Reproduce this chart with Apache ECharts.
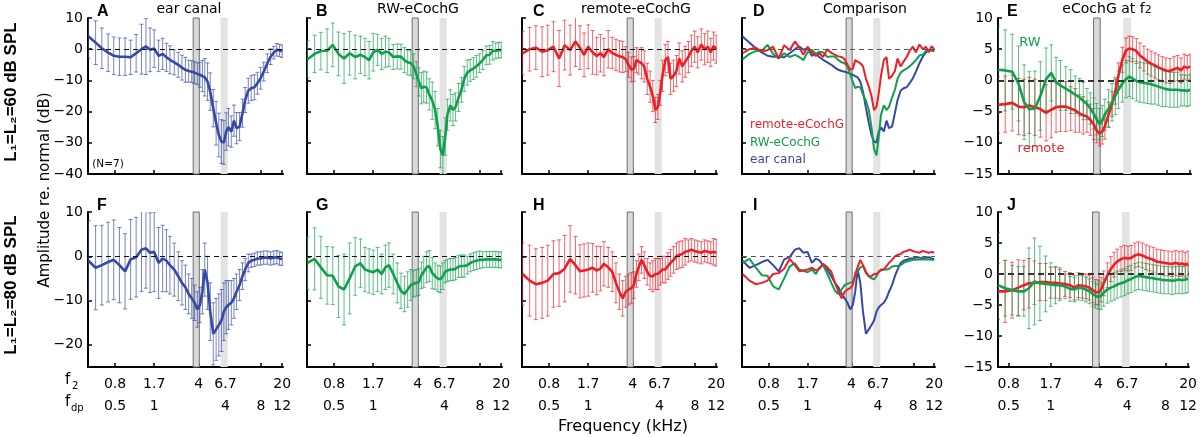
<!DOCTYPE html>
<html><head><meta charset="utf-8">
<script src="https://cdn.jsdelivr.net/npm/echarts@6/dist/echarts.min.js"></script>
<style>html,body{margin:0;padding:0;background:#fff}#c{width:1200px;height:437px}</style>
</head><body><div id="c"></div>
<script>
// ---------- data (f2 frequency in kHz, amplitude in dB re. normal) ----------
const freqMain = [0.48, 0.55, 0.62, 0.7, 0.78, 0.87, 0.97, 1.08, 1.2, 1.33, 1.45, 1.57, 1.7, 1.85, 2.0, 2.15, 2.3, 2.5, 2.7, 2.9, 3.1, 3.3, 3.5, 3.7, 3.9, 4.1, 4.3, 4.5, 4.75, 5.0, 5.3, 5.6, 5.9, 6.2, 6.5, 6.8, 7.1, 7.5, 7.9, 8.3, 8.8, 9.3, 9.8, 10.4, 11.0, 11.7, 12.4, 13.2, 14.0, 15.0, 16.0, 17.0, 18.0, 19.0, 20.0];

// L1=L2=60 dB SPL
const earCanal60 = [4.1, 2.1, 0.3, -1.1, -2.1, -2.4, -2.4, -2.6, -1.3, 0, 0.9, -0.2, 0.2, -2.1, -1.5, -2.6, -3.4, -4.2, -5.0, -5.9, -6.6, -7.0, -7.2, -7.5, -7.9, -8.2, -8.6, -9.0, -10.4, -13.6, -18.9, -23.7, -27.5, -29.6, -29.9, -26.4, -25, -26.4, -22.9, -25.3, -24.8, -20.5, -16.3, -13.3, -12.5, -12.2, -10.9, -9.3, -7.2, -4.5, -2.4, -1.1, -0.2, -0.4, -0.7];
const earCanal60Err = [7, 7, 6.5, 6, 6, 6, 6, 5.5, 6, 8, 9, 7, 6, 5, 5, 4.5, 4.5, 4, 4, 4, 4, 3.5, 3.5, 3.5, 3.5, 4, 5, 6, 6, 6, 6, 7, 7, 7, 7, 6, 6, 5, 5, 5, 4.5, 4.5, 4, 4, 4, 4, 3.5, 3.5, 3, 3, 2.5, 2, 2, 2, 2];
const rw60 = [-3.2, -1.5, -0.6, -0.5, 1.4, -1.5, -3.0, -1.3, -2.5, -1.8, -2.5, -3.5, -1.0, -0.2, -1.5, -0.8, -1.0, -2.5, -2.3, -2.4, -3.5, -4.2, -4.5, -5.5, -8.0, -10.5, -12.5, -12.0, -12.3, -14.5, -16.5, -19.5, -25.0, -32.0, -34.0, -28, -21.0, -18.0, -19.5, -18.5, -15.5, -13.0, -9.5, -7.5, -6.8, -6.2, -5.5, -4.5, -3.5, -2.0, -1.8, -0.5, -0.5, -0.3, -0.3];
const rw60Err = [6, 6, 6, 7, 7, 7, 8, 7, 7, 6, 6, 6, 6, 5, 5, 5, 4.5, 4, 4, 4, 4, 4, 4, 4, 4, 4.5, 5, 5, 5, 5, 6, 6, 6, 6, 6, 6, 5, 5, 5, 4.5, 4.5, 4, 4, 4, 3.5, 3.5, 3.5, 3, 3, 3, 3, 3, 2.5, 2.5, 2.5];
const remote60 = [-1.3, 0, 0.5, -0.8, -0.3, 0.8, -3.0, 1.3, -0.3, 2.5, 0.5, -1.8, 0.8, -1.0, -2.2, -1.3, -2.5, 0, -1.2, -1.8, -2.3, -2.5, -3.2, -5.0, -6.5, -6.3, -3.5, -4.0, -4.5, -5.5, -9.5, -12.0, -15.0, -19.5, -18.5, -14.0, -8.5, -3.5, -2.5, -9.5, -8.5, -7.0, -3.0, -5.5, -4.0, -2.5, -0.5, 0.8, -1.0, 1.5, 0, 0.8, -1.0, 1.0, 0];
const remote60Err = [7, 7, 7, 8, 8, 8, 9, 8, 8, 8, 7, 7, 7, 7, 6, 6, 6, 6, 5, 5, 5, 5, 4, 4, 4, 4, 4, 4, 5, 5, 5, 5, 5, 4, 4, 4, 5, 5, 5, 5, 5, 5, 5, 5, 5, 5, 5, 5, 5, 5, 5, 5, 4.5, 4.5, 4.5];

// L1=L2=80 dB SPL
const earCanal80 = [-1.0, -2.6, -2.0, -1.3, -0.8, -2.0, -3.4, -0.7, -0.2, 1.5, 1.8, 0.8, 1.0, -1.5, -0.5, -1.0, -2.0, -3.0, -4.5, -6.0, -7.0, -8.5, -9.5, -10.5, -12.0, -11.0, -8.0, -3.0, -6.0, -12.5, -17.5, -16.5, -15.5, -14.5, -12.5, -11.5, -11.0, -10.5, -9.5, -8.0, -6.5, -4.5, -3.0, -1.5, -1.0, -0.8, -0.5, -0.5, -0.3, -0.3, -0.5, -0.3, -0.2, -0.5, -0.6];
const earCanal80Err = [9, 9.5, 9, 9, 9, 8.5, 8.5, 9, 9, 9.5, 9, 9, 9, 8, 7.5, 7, 6.5, 6, 5.5, 5, 5, 4.5, 4.5, 4, 4, 4, 5, 6, 6, 6.5, 7, 7, 7, 7, 6.5, 6, 5.5, 5, 4.5, 4, 3.5, 3, 2.5, 2, 1.5, 1.5, 1.5, 1.5, 1.5, 1.5, 1.5, 1.5, 1.5, 1.5, 1.5];
const rw80 = [-1.5, -0.6, -2.5, -4.3, -4.4, -6.8, -7.5, -5.0, -2.3, -1.6, -3.0, -3.3, -3.6, -3.0, -4.0, -2.5, -2.0, -4.0, -6.0, -7.8, -8.5, -7.5, -6.5, -6.2, -6.0, -5.8, -4.3, -3.5, -2.5, -2.2, -3.8, -4.5, -5.0, -5.2, -4.5, -3.5, -3.2, -3.0, -3.0, -2.8, -2.3, -2.2, -2.2, -2.0, -1.5, -1.2, -1.0, -0.8, -0.8, -0.7, -0.7, -0.7, -0.7, -0.8, -0.8];
const rw80Err = [6, 7, 7, 6.5, 6.5, 7, 8, 8, 6.5, 5.5, 5, 5, 5, 5, 4.5, 5, 5, 4.5, 4.5, 4, 4, 4, 3.5, 3, 3, 3, 3, 3.5, 3.5, 3.5, 3.5, 3, 3, 3, 3, 2.5, 2.5, 2.5, 2.5, 2.5, 2.5, 2.5, 2.5, 2, 2, 2, 2, 2, 1.8, 1.8, 1.8, 1.8, 1.8, 1.8, 1.8];
const remote80 = [-4.0, -5.5, -6.3, -6.0, -5.5, -4.0, -3.8, -2.8, -0.6, -2.0, -3.4, -3.2, -3.0, -2.6, -3.2, -2.8, -1.7, -2.5, -3.5, -6.0, -8.0, -9.5, -8.0, -7.5, -7.2, -6.5, -4.0, -2.5, -0.8, -2.0, -3.5, -4.5, -4.5, -4.0, -4.0, -3.5, -3.0, -3.0, -2.2, -1.5, -0.8, 0, 0.3, 0.5, 1.0, 1.2, 1.5, 1.2, 1.0, 0.8, 1.2, 1.0, 0.8, 1.0, 0.8];
const remote80Err = [7, 8, 8, 8, 8, 7.5, 7.5, 7.5, 7.5, 6.5, 6, 6, 6, 5.5, 5.5, 5, 5, 4.5, 4.5, 4.5, 4, 4, 3.5, 3.5, 3.5, 3, 3, 3, 3, 3, 3, 3, 3.5, 3.5, 3.5, 3, 3, 3, 3, 3, 3, 3, 3, 3, 3, 2.5, 2.5, 2.5, 2.5, 2.5, 2.5, 2.5, 2.5, 3, 3];

// eCochG at f2
const freqF2 = [0.66, 0.75, 0.85, 0.95, 1.05, 1.15, 1.27, 1.4, 1.55, 1.7, 1.85, 2.0, 2.2, 2.4, 2.6, 2.8, 3.0, 3.2, 3.4, 3.6, 3.8, 4.0, 4.2, 4.4, 4.7, 5.0, 5.3, 5.6, 6.0, 6.4, 6.8, 7.2, 7.7, 8.2, 8.8, 9.4, 10.0, 10.7, 11.4, 12.2, 13.0, 14.0, 15.0, 16.0, 17.0, 18.0, 19.0, 20.0];
const rwF2_60 = [1.7, 1.6, 1.4, -0.5, -3.5, -4.6, -4.5, -2.5, 0.2, 1.2, -0.3, -0.8, -1.3, -1.8, -2.3, -2.7, -3.3, -3.8, -4.5, -5.3, -6.2, -7.0, -6.5, -5.5, -4.5, -3.5, -2.5, -1.5, -0.5, 0.2, 0.6, 0.3, -0.1, -0.3, -0.4, -0.5, -0.6, -0.8, -1.0, -1.2, -1.4, -1.5, -1.5, -1.5, -1.6, -1.6, -1.7, -1.5];
const rwF2_60Err = [7, 6.5, 6, 6, 6, 6, 6, 5.5, 5, 4.5, 4, 4, 3.5, 3.5, 3, 3, 3, 2.5, 2.5, 2.5, 2.5, 2.5, 2.5, 2.5, 3, 3, 3, 3, 3, 3, 3.2, 3.2, 3.2, 3.2, 3.2, 3.2, 3.2, 3, 3, 3, 2.8, 2.8, 2.8, 2.8, 2.5, 2.5, 2.5, 2.5];
const remoteF2_60 = [-3.9, -3.8, -3.6, -4.2, -4.3, -4.0, -4.3, -4.6, -5.2, -4.7, -4.3, -4.2, -4.2, -4.5, -4.8, -5.3, -5.6, -5.8, -6.3, -7.0, -8.0, -8.5, -8.2, -7.4, -5.5, -3.8, -1.8, 0.8, 3.3, 4.8, 5.1, 5.0, 4.7, 4.0, 3.5, 3.0, 2.7, 2.4, 2.1, 1.8, 1.6, 1.5, 1.8, 2.0, 1.6, 2.2, 2.0, 2.2];
const remoteF2_60Err = [4.5, 4.5, 4.5, 4.5, 4.5, 4.5, 4.5, 4.5, 4.5, 4.5, 4, 4, 4, 3.5, 3.5, 3, 3, 2.5, 2.5, 2.5, 2, 2, 2, 2, 2, 2, 2, 2, 2, 2, 2, 2, 2, 2, 2, 2, 2, 2, 2, 2, 2, 2, 2, 2, 2, 2, 2, 2];
const rwF2_80 = [-1.8, -2.3, -2.6, -2.8, -2.8, -2.3, -1.2, -1.5, -1.6, -1.7, -1.8, -1.8, -2.0, -2.4, -2.5, -2.2, -2.3, -2.5, -2.8, -3.2, -3.5, -3.7, -3.5, -3.0, -2.5, -2.2, -2.0, -1.7, -1.5, -1.3, -1.0, -0.8, -0.5, -0.3, -0.4, -0.5, -0.6, -0.7, -0.8, -0.9, -1.0, -1.0, -1.1, -1.0, -0.9, -1.0, -0.9, -0.8];
const rwF2_80Err = [8.5, 4.5, 4, 4, 4, 6.5, 7, 6, 4.5, 3.5, 3, 2.5, 2, 2, 2, 2, 2, 2, 2, 2, 2, 2, 2.2, 2.2, 2.2, 2.2, 2.2, 2.2, 2.2, 2.2, 2.2, 2.2, 2.2, 2.2, 2.2, 2.2, 2.2, 2.2, 2.2, 2.2, 2.2, 2.2, 2.2, 2.2, 2.2, 2.2, 2.2, 2.2];
const remoteF2_80 = [-2.8, -2.8, -2.6, -2.2, -1.8, -1.5, -1.4, -1.3, -1.3, -1.4, -1.4, -1.5, -1.6, -1.8, -2.2, -1.8, -1.9, -2.0, -2.2, -2.6, -2.9, -3.0, -2.5, -1.5, -0.2, 0.8, 1.5, 2.0, 2.4, 2.6, 2.5, 2.6, 3.0, 3.2, 3.0, 2.7, 2.5, 2.3, 2.0, 1.9, 1.8, 1.7, 1.6, 1.8, 1.6, 1.7, 1.5, 1.7];
const remoteF2_80Err = [4.5, 5, 4.5, 4.5, 4, 4, 3.5, 3, 3, 2.5, 2.5, 2.5, 2, 2, 2, 2, 2, 2, 2, 2, 2, 2, 2, 2, 2, 2, 2, 2, 2, 2, 2, 2, 2, 2, 2, 2, 2, 2, 2, 2, 2, 2, 2, 2, 2, 2, 2, 2];

// axis ticks (f2 kHz) and labels for f2 and fdp rows
const tickF2 = [0.8, 1.7, 4, 6.7, 13.3, 20];
const tickF2Labels = ['0.8', '1.7', '4', '6.7', '', '20'];
const tickFdpLabels = ['0.5', '1', '', '4', '8', '12'];
// shaded frequency bands (f2 kHz)
const bandDark = [3.6, 4.05];
const bandLight = [6.1, 7.0];

// ---------- styling ----------
const BLUE = '#3548a5', GREEN = '#10a04c', RED = '#ec1f26';
const FONT = '"DejaVu Sans", Verdana, sans-serif';
const BOLD = 'bold 16px "Liberation Sans", Arial, sans-serif';
const L = Math.log10;
const XMAX = 20.3;

function xFmt(v) {
  for (let i = 0; i < tickF2.length; i++) {
    if (Math.abs(L(tickF2[i]) - v) < 1e-3) {
      return (tickF2Labels[i] || '\u00a0') + '\n' + (tickFdpLabels[i] || '\u00a0');
    }
  }
  return '';
}
function yFmt(v) { return v < 0 ? '\u2212' + Math.abs(v) : String(v); }

const T = {top: 18, height: 156}, B = {top: 212, height: 155};
const cols = [{left: 88, width: 195}, {left: 307, width: 195}, {left: 522, width: 195}, {left: 742, width: 193}, {left: 998, width: 193}];
const Y60 = {min: -40, max: 10, interval: 10};
const Y80 = {min: -25, max: 10, custom: [-20, -10, 0, 10]};
const YF2 = {min: -15, max: 10, interval: 5};

const panels = [
  {row: T, col: 0, y: Y60, ylab: true, xmin: 0.475, layers: [{f: freqMain, m: earCanal60, e: earCanal60Err, c: BLUE}]},
  {row: T, col: 1, y: Y60, ylab: false, xmin: 0.475, layers: [{f: freqMain, m: rw60, e: rw60Err, c: GREEN}]},
  {row: T, col: 2, y: Y60, ylab: false, xmin: 0.475, layers: [{f: freqMain, m: remote60, e: remote60Err, c: RED}]},
  {row: T, col: 3, y: Y60, ylab: false, xmin: 0.475, thin: true, grey0: true, layers: [{f: freqMain, m: earCanal60, c: BLUE}, {f: freqMain, m: rw60, c: GREEN}, {f: freqMain, m: remote60, c: RED}]},
  {row: T, col: 4, y: YF2, ylab: true, xmin: 0.66, bold0: true, layers: [{f: freqF2, m: remoteF2_60, e: remoteF2_60Err, c: RED}, {f: freqF2, m: rwF2_60, e: rwF2_60Err, c: GREEN}]},
  {row: B, col: 0, y: Y80, ylab: true, xmin: 0.475, xlab: true, layers: [{f: freqMain, m: earCanal80, e: earCanal80Err, c: BLUE}]},
  {row: B, col: 1, y: Y80, ylab: false, xmin: 0.475, xlab: true, layers: [{f: freqMain, m: rw80, e: rw80Err, c: GREEN}]},
  {row: B, col: 2, y: Y80, ylab: false, xmin: 0.475, xlab: true, layers: [{f: freqMain, m: remote80, e: remote80Err, c: RED}]},
  {row: B, col: 3, y: Y80, ylab: false, xmin: 0.475, xlab: true, thin: true, grey0: true, layers: [{f: freqMain, m: earCanal80, c: BLUE}, {f: freqMain, m: rw80, c: GREEN}, {f: freqMain, m: remote80, c: RED}]},
  {row: B, col: 4, y: YF2, ylab: true, xmin: 0.66, xlab: true, bold0: true, layers: [{f: freqF2, m: remoteF2_80, e: remoteF2_80Err, c: RED}, {f: freqF2, m: rwF2_80, e: rwF2_80Err, c: GREEN}]}
];

function errRender(color) {
  return function (params, api) {
    const x = api.value(0), lo = api.value(1), hi = api.value(2);
    const a = api.coord([x, hi]), b = api.coord([x, lo]);
    const st = {stroke: color, lineWidth: 1, opacity: 0.68};
    return {type: 'group', children: [
      {type: 'line', shape: {x1: a[0], y1: a[1], x2: b[0], y2: b[1]}, style: st},
      {type: 'line', shape: {x1: a[0] - 2, y1: a[1], x2: a[0] + 2, y2: a[1]}, style: st},
      {type: 'line', shape: {x1: b[0] - 2, y1: b[1], x2: b[0] + 2, y2: b[1]}, style: st}
    ]};
  };
}

const grid = [], xAxis = [], yAxis = [], series = [];
panels.forEach((p, i) => {
  const c = cols[p.col];
  grid.push({left: c.left, top: p.row.top, width: c.width, height: p.row.height, containLabel: false});
  const tv = tickF2.map(L);
  xAxis.push({
    type: 'value', gridIndex: i, min: L(p.xmin), max: L(XMAX),
    axisLine: {show: true, onZero: false, lineStyle: {color: '#000', width: 2}},
    axisTick: {show: true, inside: true, length: 4, lineStyle: {color: '#000', width: 1.5}, customValues: tv},
    axisLabel: {show: !!p.xlab, customValues: tv, formatter: xFmt, fontSize: 14, fontFamily: FONT, color: '#000', lineHeight: 22, margin: 6},
    splitLine: {show: false}
  });
  const ya = {
    type: 'value', gridIndex: i, min: p.y.min, max: p.y.max,
    axisLine: {show: true, onZero: false, lineStyle: {color: '#000', width: 2}},
    axisTick: {show: true, inside: true, length: 4, lineStyle: {color: '#000', width: 1.5}},
    axisLabel: {show: p.ylab, formatter: yFmt, fontSize: 14, fontFamily: FONT, color: '#000', margin: 5},
    splitLine: {show: false}
  };
  if (p.y.interval) ya.interval = p.y.interval;
  if (p.y.custom) { ya.axisTick.customValues = p.y.custom; ya.axisLabel.customValues = p.y.custom; }
  yAxis.push(ya);
  const zeroStyle = p.bold0 ? {type: [6, 4], color: '#333', width: 1.8}
                  : p.grey0 ? {type: [5, 4], color: '#555', width: 1.1}
                  : {type: [5, 4], color: '#111', width: 1.1};
  // bands + zero line
  series.push({
    type: 'line', xAxisIndex: i, yAxisIndex: i, data: [[L(p.xmin), 0]], symbol: 'none', lineStyle: {opacity: 0}, silent: true, z: 1,
    markArea: {silent: true, data: [
      [{xAxis: L(bandDark[0]), itemStyle: {color: '#d9d9d9', borderColor: '#6e6e6e', borderWidth: 1}}, {xAxis: L(bandDark[1])}],
      [{xAxis: L(bandLight[0]), itemStyle: {color: '#e3e3e3', borderWidth: 0}}, {xAxis: L(bandLight[1])}]
    ]},
    markLine: {silent: true, symbol: ['none', 'none'], label: {show: false}, lineStyle: zeroStyle, data: [{yAxis: 0}]}
  });
  p.layers.forEach(ly => {
    if (ly.e) {
      series.push({
        type: 'custom', xAxisIndex: i, yAxisIndex: i, z: 3, clip: true, silent: true,
        renderItem: errRender(ly.c),
        encode: {x: 0, y: [1, 2]},
        data: ly.f.map((f, k) => [L(f), ly.m[k] - ly.e[k], ly.m[k] + ly.e[k]])
      });
    }
  });
  p.layers.forEach(ly => {
    series.push({
      type: 'line', xAxisIndex: i, yAxisIndex: i, z: 4, showSymbol: false, symbol: 'none', silent: true,
      lineStyle: {color: ly.c, width: p.thin ? 2 : 2.6}, itemStyle: {color: ly.c},
      data: ly.f.map((f, k) => [L(f), ly.m[k]])
    });
  });
});

function txt(x, y, text, font, fill, align, extra) {
  return Object.assign({type: 'text', x: x, y: y, silent: true, z: 100,
    style: {text: text, font: font, fill: fill || '#000', textAlign: align || 'center', textVerticalAlign: 'middle'}}, extra || {});
}
const F14 = '14px ' + FONT;
const letters = [['A', 97, 12], ['B', 316, 12], ['C', 533, 12], ['D', 753, 12], ['E', 1007, 12],
                 ['F', 97, 206], ['G', 316, 206], ['H', 533, 206], ['I', 753, 206], ['J', 1007, 206]];
const graphics = letters.map(l => txt(l[1], l[2], l[0], BOLD, '#000', 'left'));
graphics.push(
  txt(189, 9, 'ear canal', F14), txt(418, 9, 'RW-eCochG', F14), txt(636, 9, 'remote-eCochG', F14), txt(865, 9, 'Comparison', F14),
  {type: 'text', x: 1107, y: 9, silent: true, z: 100, style: {text: '{a|eCochG at f}{b|2}', textAlign: 'center', textVerticalAlign: 'middle',
    rich: {a: {font: F14, fill: '#000'}, b: {font: '11px ' + FONT, fill: '#000', verticalAlign: 'bottom'}}}},
  txt(108, 164, '(N=7)', '10.5px ' + FONT),
  txt(750, 125, 'remote-eCochG', '12px ' + FONT, RED, 'left'),
  txt(750, 143, 'RW-eCochG', '12px ' + FONT, GREEN, 'left'),
  txt(750, 160, 'ear canal', '12px ' + FONT, BLUE, 'left'),
  txt(1030, 43, 'RW', '13px ' + FONT, GREEN),
  txt(1041, 149, 'remote', '13px ' + FONT, RED),
  txt(45, 190, 'Amplitude re. normal (dB)', '15px ' + FONT, '#000', 'center', {rotation: Math.PI / 2}),
  txt(11, 92, 'L\u2081=L\u2082=60 dB SPL', 'bold 17px "Liberation Sans", Arial, sans-serif', '#000', 'center', {rotation: Math.PI / 2}),
  txt(11, 285, 'L\u2081=L\u2082=80 dB SPL', 'bold 17px "Liberation Sans", Arial, sans-serif', '#000', 'center', {rotation: Math.PI / 2}),
  txt(65, 380, 'f', '15px ' + FONT, '#000', 'left'),
  txt(72, 386, '2', '10px ' + FONT, '#000', 'left'),
  txt(65, 402, 'f', '15px ' + FONT, '#000', 'left'),
  txt(71, 408, 'dp', '10px ' + FONT, '#000', 'left'),
  txt(623, 427, 'Frequency (kHz)', '16px ' + FONT)
);

const chart = echarts.init(document.getElementById('c'), null, {renderer: 'canvas'});
chart.setOption({animation: false, backgroundColor: '#fff', grid, xAxis, yAxis, series, graphic: {elements: graphics}});
</script></body></html>
